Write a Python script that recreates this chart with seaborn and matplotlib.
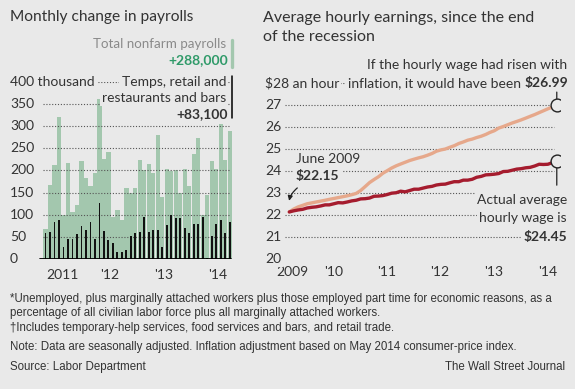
import pandas as pd
import matplotlib
matplotlib.use('Agg')
import matplotlib.pyplot as plt
import matplotlib.dates as mdates
import matplotlib.transforms as mtrans
from matplotlib.lines import Line2D
import seaborn as sns

# ---- data: monthly change in payrolls, thousands (Jan 2011 - Jun 2014)
pay_months = pd.date_range('2011-01-01', '2014-06-01', freq='MS')
total_nonfarm = [68, 168, 211, 320, 100, 217, 106, 121, 221, 183, 165, 195,
                 360, 226, 242, 95, 110, 88, 160, 150, 161, 224, 200, 214,
                 195, 280, 140, 203, 199, 201, 150, 202, 164, 237, 274, 100,
                 144, 222, 203, 304, 224, 288]
temps_retail = [59, 60, 83, 89, 27, 44, 44, 57, 74, 65, 83, 45,
                127, 63, 42, 35, 15, 15, 21, 53, 59, 61, 95, 61,
                66, 66, 27, 76, 100, 93, 93, 70, 59, 79, 79, 95,
                3, 51, 79, 87, 58, 83]
pay_ticks = [0, 50, 100, 150, 200, 250, 300, 350, 400]
pay_ticklabels = ['0', '50', '100', '150', '200', '250', '300', '350', '400 thousand']
pay_years = ['2011', "'12", "'13", "'14"]

# ---- data: average hourly earnings, dollars (Jun 2009 - Jun 2014)
wage_dates = pd.date_range('2009-06-01', '2014-06-01', freq='MS')
wage_actual = [22.15, 22.20, 22.24, 22.27, 22.33, 22.36, 22.38,
               22.42, 22.47, 22.47, 22.52, 22.57, 22.56, 22.60, 22.65, 22.68, 22.74, 22.75, 22.78,
               22.86, 22.87, 22.89, 22.94, 23.00, 23.02, 23.09, 23.06, 23.12, 23.18, 23.18, 23.23,
               23.28, 23.31, 23.37, 23.40, 23.41, 23.47, 23.52, 23.52, 23.59, 23.59, 23.63, 23.72,
               23.76, 23.83, 23.84, 23.86, 23.89, 23.98, 23.99, 24.04, 24.09, 24.11, 24.15, 24.17,
               24.23, 24.31, 24.30, 24.31, 24.38, 24.45]
wage_inflation = [22.15, 22.28, 22.38, 22.45, 22.52, 22.56, 22.60,
                  22.64, 22.68, 22.72, 22.76, 22.80, 22.84, 22.88, 22.93, 22.99, 23.12, 23.30, 23.48,
                  23.62, 23.75, 23.90, 24.02, 24.14, 24.24, 24.32, 24.40, 24.48, 24.54, 24.60, 24.65,
                  24.72, 24.80, 24.90, 24.96, 25.00, 25.08, 25.15, 25.25, 25.32, 25.40, 25.45, 25.52,
                  25.58, 25.66, 25.75, 25.83, 25.95, 26.02, 26.10, 26.18, 26.25, 26.32, 26.40, 26.48,
                  26.56, 26.65, 26.73, 26.82, 26.90, 26.99]
wage_ticks = [20, 21, 22, 23, 24, 25, 26, 27, 28]
wage_ticklabels = ['20', '21', '22', '23', '24', '25', '26', '27', '$28 an hour']
wage_years = ['2009', "'10", "'11", "'12", "'13", "'14"]

BG = '#e9e9e9'
GREEN = '#a3c7ae'
GREEN_TXT = '#2f9a69'
DARKRED = '#a51c2e'
SALMON = '#e6a88b'
TXT = '#333333'

sns.set_style('white')
plt.rcParams['font.family'] = ['Lato', 'DejaVu Sans']
NARROW = ['Liberation Sans Narrow', 'Liberation Sans', 'DejaVu Sans']

W, H = 575, 389
fig = plt.figure(figsize=(W / 100, H / 100), dpi=100, facecolor=BG)


def fx(x):
    return x / W


def fy(y):
    return 1 - y / H


def ftext(x, y, s, **kw):
    kw.setdefault('color', TXT)
    kw.setdefault('va', 'center')
    return fig.text(fx(x), fy(y), s, **kw)


gridstyle = dict(color='#555555', ls=(0, (1, 1.6)), lw=0.8)
hide = dict(facecolor=BG, edgecolor='none', pad=1.5)

# ================= left: payrolls =================
ax1 = fig.add_axes([fx(37), fy(259), (234 - 37) / W, (259 - 81.7) / H])
ax1.set_facecolor('none')
pay = pd.DataFrame({'month': pay_months.strftime('%Y-%m'),
                    'total': total_nonfarm, 'temps': temps_retail})
sns.barplot(data=pay, x='month', y='total', color=GREEN, saturation=1, width=0.94,
            errorbar=None, linewidth=0, edgecolor='none', ax=ax1, zorder=2)
sns.barplot(data=pay, x='month', y='temps', color='#111111', saturation=1, width=0.42,
            errorbar=None, linewidth=0, edgecolor='none', ax=ax1, zorder=4)
ax1.set_xlim(-1.9, len(pay) + 0.45 - 0.5)
ax1.set_ylim(0, 400)
for v in pay_ticks[1:]:
    ax1.axhline(v, xmin=0.03, xmax=0.98, zorder=3, **gridstyle)
ax1.axhline(0, xmin=0.015, xmax=0.985, color='black', lw=1.3, zorder=5)
for s in ax1.spines.values():
    s.set_visible(False)
ax1.set_xlabel('')
ax1.set_ylabel('')
ax1.set_yticks([])
jan_pos = [i - 0.5 for i, d in enumerate(pay_months) if d.month == 1]
ax1.set_xticks(jan_pos)
ax1.set_xticklabels([])
ax1.set_xticks([i - 0.5 for i in range(len(pay) + 1)], minor=True)
ax1.tick_params(axis='x', which='major', length=16, width=1.2, color='black', direction='out')
ax1.tick_params(axis='x', which='minor', length=3.5, width=0.8, color='black', direction='out')
tr1 = mtrans.blended_transform_factory(ax1.transData, ax1.transAxes)
for p, lab in zip(jan_pos, pay_years):
    ax1.annotate(lab, xy=(p, 0), xycoords=tr1, xytext=(3, -16), textcoords='offset pixels',
                 ha='left', va='center', fontsize=10, color=TXT)
trf1 = mtrans.blended_transform_factory(fig.transFigure, ax1.transData)
for v, lab in zip(pay_ticks, pay_ticklabels):
    ax1.text(fx(10), v, lab, transform=trf1, ha='left', va='center', fontsize=10,
             color=TXT, bbox=hide, zorder=6)

ftext(10, 17, 'Monthly change in payrolls', fontsize=11.2)
ftext(226, 44, 'Total nonfarm payrolls', ha='right', fontsize=9.6, color='#8a8a8a')
ftext(228, 60, '+288,000', ha='right', fontsize=10, color=GREEN_TXT, fontweight='bold')
ftext(226, 82, 'Temps, retail and', ha='right', fontsize=10, bbox=hide, zorder=6)
ftext(226, 98, 'restaurants and bars', ha='right', fontsize=10, bbox=hide, zorder=6)
ftext(228, 114, '+83,100', ha='right', fontsize=10, fontweight='bold')
fig.add_artist(Line2D([fx(232), fx(232)], [fy(40), fy(67)], color=GREEN, lw=2.4))
fig.add_artist(Line2D([fx(232), fx(232)], [fy(76), fy(118)], color='black', lw=1.1))

# ================= right: hourly earnings =================
ax2 = fig.add_axes([fx(283), fy(259.4), (560 - 283) / W, (259.4 - 82.8) / H])
ax2.set_facecolor('none')
wage = pd.DataFrame({'date': wage_dates, 'actual': wage_actual, 'inflation': wage_inflation})
sns.lineplot(data=wage, x='date', y='inflation', color=SALMON, lw=2.4, ax=ax2, zorder=3)
sns.lineplot(data=wage, x='date', y='actual', color=DARKRED, lw=2.4, ax=ax2, zorder=4)
ax2.set_xlim(mdates.date2num(pd.Timestamp('2009-04-19')), mdates.date2num(pd.Timestamp('2014-06-23')))
ax2.set_ylim(20, 28)
for v in wage_ticks[1:]:
    ax2.axhline(v, xmin=0.007, xmax=0.98, zorder=1, **gridstyle)
for s in ax2.spines.values():
    s.set_visible(False)
ax2.set_xlabel('')
ax2.set_ylabel('')
ax2.set_yticks([])
jan_num = [mdates.date2num(pd.Timestamp(f'{y}-01-01')) for y in range(2010, 2015)]
ax2.set_xticks(jan_num)
ax2.set_xticklabels([])
ax2.set_xticks(mdates.date2num(wage_dates), minor=True)
ax2.tick_params(axis='x', which='major', length=16, width=1.2, color='#222222', direction='out')
ax2.tick_params(axis='x', which='minor', length=4.5, width=0.8, color='#222222', direction='out')
tr2 = mtrans.blended_transform_factory(ax2.transData, ax2.transAxes)
x_first = mdates.date2num(wage_dates[0])
x_last = mdates.date2num(wage_dates[-1])
ax2.annotate(wage_years[0], xy=(x_first, 0), xycoords=tr2, xytext=(3, -13),
             textcoords='offset pixels', ha='center', va='center', fontsize=10, color=TXT)
for d, lab in zip(jan_num, wage_years[1:]):
    ax2.annotate(lab, xy=(d, 0), xycoords=tr2, xytext=(3, -13), textcoords='offset pixels',
                 ha='left', va='center', fontsize=10, color=TXT)
trf2 = mtrans.blended_transform_factory(fig.transFigure, ax2.transData)
for v, lab in zip(wage_ticks, wage_ticklabels):
    ax2.text(fx(265), v, lab, transform=trf2, ha='left', va='center', fontsize=10,
             color=TXT, bbox=hide, zorder=6)

# end-point circles and leaders
ax2.scatter([x_last], [wage_inflation[-1]], s=85, facecolor=BG, edgecolor='#222222',
            linewidth=1.0, zorder=7)
ax2.scatter([x_last], [wage_actual[-1]], s=85, facecolor=BG, edgecolor='#222222',
            linewidth=1.0, zorder=7)
ax2.annotate('', xy=(x_last, wage_inflation[-1]), xytext=(0, 13), textcoords='offset pixels',
             arrowprops=dict(arrowstyle='-', color='#222222', lw=0.9, shrinkA=0, shrinkB=4.6))
ax2.annotate('', xy=(x_last, wage_actual[-1]), xytext=(0, -24), textcoords='offset pixels',
             arrowprops=dict(arrowstyle='-', color='#222222', lw=0.9, shrinkA=0, shrinkB=4.6))
ax2.annotate('', xy=(x_first, wage_actual[0]), xytext=(8, 24), textcoords='offset pixels',
             arrowprops=dict(arrowstyle='-|>', color='#222222', lw=0.9, shrinkA=0, shrinkB=8,
                             mutation_scale=7, connectionstyle='arc3,rad=0.3'))

ftext(263, 18, 'Average hourly earnings, since the end', fontsize=11.5)
ftext(263, 37, 'of the recession', fontsize=11.5)
ftext(567, 65, 'If the hourly wage had risen with', ha='right', fontsize=10)
ftext(568, 83, '$26.99', ha='right', fontsize=10, fontweight='bold', bbox=hide, zorder=6)
ftext(521, 83, 'inflation, it would have been', ha='right', fontsize=10, bbox=hide, zorder=6)
ftext(296, 159, 'June 2009', fontsize=10, bbox=hide, zorder=6)
ftext(296, 176, '$22.15', fontsize=10, fontweight='bold', bbox=hide, zorder=6)
ftext(567, 200, 'Actual average', ha='right', fontsize=10, bbox=hide, zorder=6)
ftext(567, 218, 'hourly wage is', ha='right', fontsize=10, bbox=hide, zorder=6)
ftext(567, 237, '$24.45', ha='right', fontsize=10, fontweight='bold', bbox=hide, zorder=6)

# ================= footnotes =================
fn = dict(family=NARROW, fontsize=8.3, color='#333333')
ftext(10, 299, '*Unemployed, plus marginally attached workers plus those employed part time '
      'for economic reasons, as a', **fn)
ftext(10, 313, 'percentage of all civilian labor force plus all marginally attached workers.', **fn)
ftext(10, 328, '\u2020Includes temporary-help services, food services and bars, and retail trade.', **fn)
ftext(10, 347, 'Note: Data are seasonally adjusted. Inflation adjustment based on May 2014 '
      'consumer-price index.', **fn)
ftext(10, 367, 'Source: Labor Department', **fn)
ftext(565, 367, 'The Wall Street Journal', ha='right', **fn)

fig.savefig('out.png', dpi=100, facecolor=BG)
